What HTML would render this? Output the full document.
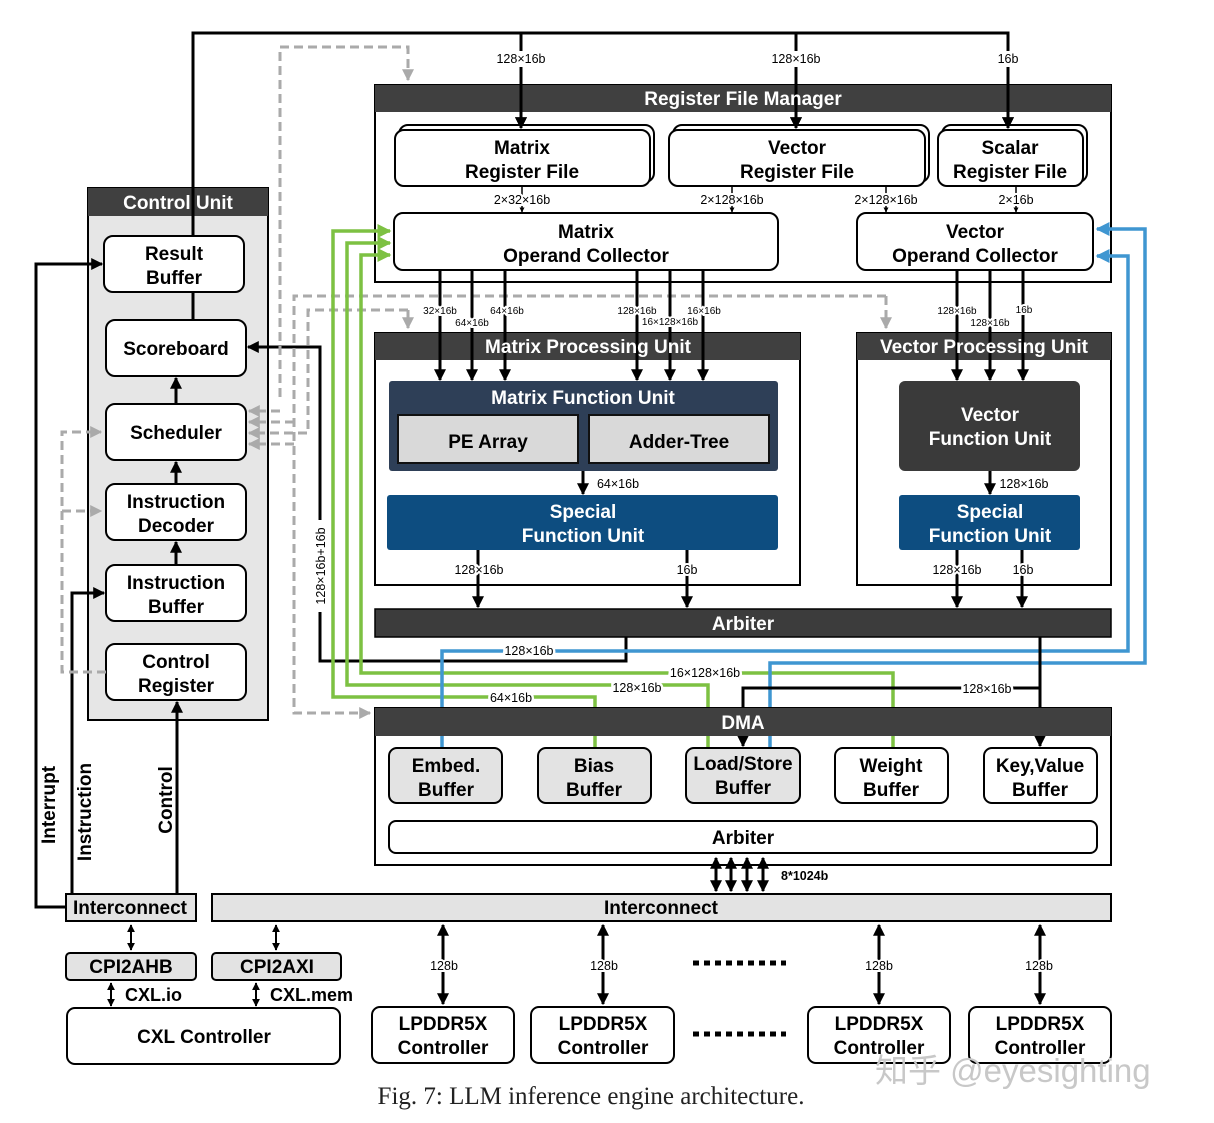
<!DOCTYPE html>
<html><head><meta charset="utf-8"><style>
html,body{margin:0;padding:0;background:#fff;width:1214px;height:1123px;overflow:hidden}
svg{display:block}
text{font-family:"Liberation Sans",sans-serif}
.b{font-weight:bold;font-size:19px;text-anchor:middle}
.w{fill:#fff}
.s{font-size:12.5px;text-anchor:middle}
.xs{font-size:10px;text-anchor:middle}
</style></head><body>
<svg width="1214" height="1123" viewBox="0 0 1214 1123" xmlns="http://www.w3.org/2000/svg">
<defs>
<marker id="a" viewBox="0 0 10 10" refX="9" refY="5" markerWidth="4" markerHeight="4" orient="auto-start-reverse"><path d="M0,0L10,5L0,10z" fill="#000"/></marker>
<marker id="ag" viewBox="0 0 10 10" refX="9" refY="5" markerWidth="4" markerHeight="4" orient="auto"><path d="M0,0L10,5L0,10z" fill="#aaa"/></marker>
<marker id="agr" viewBox="0 0 10 10" refX="9" refY="5" markerWidth="4" markerHeight="4" orient="auto"><path d="M0,0L10,5L0,10z" fill="#7dc142"/></marker>
<marker id="abl" viewBox="0 0 10 10" refX="9" refY="5" markerWidth="4" markerHeight="4" orient="auto"><path d="M0,0L10,5L0,10z" fill="#3f96d1"/></marker>
<marker id="a2" viewBox="0 0 10 10" refX="9" refY="5" markerWidth="3.5" markerHeight="3.5" orient="auto-start-reverse"><path d="M0,0L10,5L0,10z" fill="#000"/></marker>
</defs>

<!-- Control unit -->
<rect x="88" y="188" width="180" height="532" fill="#e6e6e6" stroke="#000" stroke-width="2"/>
<rect x="88" y="188" width="180" height="28" fill="#404040"/>
<g fill="#fff" stroke="#000" stroke-width="2">
<rect x="104" y="236" width="140" height="56" rx="9"/>
<rect x="106" y="320" width="140" height="56" rx="9"/>
<rect x="106" y="404" width="140" height="56" rx="9"/>
<rect x="106" y="484" width="140" height="56" rx="9"/>
<rect x="106" y="565" width="140" height="56" rx="9"/>
<rect x="106" y="644" width="140" height="56" rx="9"/>
</g>
<text class="b" font-size="18"><tspan x="174" y="260">Result</tspan><tspan x="174" y="284">Buffer</tspan></text>
<text class="b" x="176" y="355" font-size="18">Scoreboard</text>
<text class="b" x="176" y="439" font-size="18">Scheduler</text>
<text class="b" font-size="18"><tspan x="176" y="508">Instruction</tspan><tspan x="176" y="532">Decoder</tspan></text>
<text class="b" font-size="18"><tspan x="176" y="589">Instruction</tspan><tspan x="176" y="613">Buffer</tspan></text>
<text class="b" font-size="18"><tspan x="176" y="668">Control</tspan><tspan x="176" y="692">Register</tspan></text>
<g stroke="#000" stroke-width="3" fill="none">
<line x1="176" y1="484" x2="176" y2="462" marker-end="url(#a)"/>
<line x1="176" y1="404" x2="176" y2="378" marker-end="url(#a)"/>
<line x1="176" y1="565" x2="176" y2="542" marker-end="url(#a)"/>
<line x1="193" y1="292" x2="193" y2="320"/>
<polyline points="193,236 193,33 1008,33 1008,128" marker-end="url(#a)"/>
<line x1="521" y1="33" x2="521" y2="128" marker-end="url(#a)"/>
<line x1="796" y1="33" x2="796" y2="128" marker-end="url(#a)"/>
<polyline points="66,907 36,907 36,264 102,264" marker-end="url(#a)"/>
<polyline points="72,894 72,593 104,593" marker-end="url(#a)"/>
<line x1="177" y1="894" x2="177" y2="702" marker-end="url(#a)"/>
<polyline points="626,637 626,661 320,661 320,347 248,347" marker-end="url(#a)"/>
</g>
<text x="178" y="209" class="b w" font-size="18">Control Unit</text>
<rect x="312" y="520" width="16" height="92" fill="#fff"/>
<text transform="translate(325,566) rotate(-90)" class="s">128×16b+16b</text>
<text transform="translate(55,805) rotate(-90)" class="b" font-size="18">Interrupt</text>
<text transform="translate(91,812) rotate(-90)" class="b" font-size="18">Instruction</text>
<text transform="translate(172,800) rotate(-90)" class="b" font-size="18">Control</text>

<!-- gray dashed -->
<g stroke="#aaa" stroke-width="3" fill="none" stroke-dasharray="9,5">
<polyline points="280,397 280,47 408,47 408,80" marker-end="url(#ag)"/>
<line x1="280" y1="411" x2="249" y2="411" marker-end="url(#ag)"/>
<polyline points="886,296 294,296 294,713 370,713" marker-end="url(#ag)"/>
<line x1="886" y1="296" x2="886" y2="328" marker-end="url(#ag)"/>
<line x1="294" y1="422" x2="249" y2="422" marker-end="url(#ag)"/>
<polyline points="408,310 308,310 308,433 249,433" marker-end="url(#ag)"/>
<line x1="408" y1="310" x2="408" y2="328" marker-end="url(#ag)"/>
<line x1="294" y1="444" x2="249" y2="444" marker-end="url(#ag)"/>
<polyline points="106,672 62,672 62,432 101,432" marker-end="url(#ag)"/>
<line x1="62" y1="511" x2="101" y2="511" marker-end="url(#ag)"/>
</g>

<!-- RFM -->
<rect x="375" y="85" width="736" height="197" fill="none" stroke="#000" stroke-width="2"/>
<rect x="375" y="85" width="736" height="27" fill="#404040"/>
<g fill="#fff" stroke="#000" stroke-width="2">
<rect x="399" y="125" width="255" height="57" rx="9"/><rect x="395" y="130" width="255" height="56" rx="9"/>
<rect x="673" y="125" width="256" height="57" rx="9"/><rect x="669" y="130" width="256" height="56" rx="9"/>
<rect x="942" y="125" width="145" height="57" rx="9"/><rect x="938" y="130" width="145" height="56" rx="9"/>
<rect x="394" y="213" width="384" height="57" rx="9"/>
<rect x="857" y="213" width="236" height="57" rx="9"/>
</g>
<g stroke="#000" stroke-width="3"><line x1="521" y1="33" x2="521" y2="128" marker-end="url(#a)"/><line x1="796" y1="33" x2="796" y2="128" marker-end="url(#a)"/><line x1="1008" y1="33" x2="1008" y2="128" marker-end="url(#a)"/></g>
<rect x="490" y="51" width="62" height="16" fill="#fff"/><text x="521" y="63" class="s">128×16b</text>
<rect x="765" y="51" width="62" height="16" fill="#fff"/><text x="796" y="63" class="s">128×16b</text>
<rect x="995" y="51" width="26" height="16" fill="#fff"/><text x="1008" y="63" class="s">16b</text>
<text x="743" y="105" class="b w" font-size="18">Register File Manager</text>
<text class="b" font-size="18"><tspan x="522" y="154">Matrix</tspan><tspan x="522" y="178">Register File</tspan></text>
<text class="b" font-size="18"><tspan x="797" y="154">Vector</tspan><tspan x="797" y="178">Register File</tspan></text>
<text class="b" font-size="18"><tspan x="1010" y="154">Scalar</tspan><tspan x="1010" y="178">Register File</tspan></text>
<text class="b" font-size="18"><tspan x="586" y="238">Matrix</tspan><tspan x="586" y="262">Operand Collector</tspan></text>
<text class="b" font-size="18"><tspan x="975" y="238">Vector</tspan><tspan x="975" y="262">Operand Collector</tspan></text>
<g stroke="#000" stroke-width="1.5">
<line x1="522" y1="186" x2="522" y2="212" marker-end="url(#a2)"/>
<line x1="732" y1="186" x2="732" y2="212" marker-end="url(#a2)"/>
<line x1="886" y1="186" x2="886" y2="212" marker-end="url(#a2)"/>
<line x1="1016" y1="186" x2="1016" y2="212" marker-end="url(#a2)"/>
</g>
<g stroke="#fff" stroke-width="4" paint-order="stroke">
<text x="522" y="204" class="s">2×32×16b</text>
<text x="732" y="204" class="s">2×128×16b</text>
<text x="886" y="204" class="s">2×128×16b</text>
<text x="1016" y="204" class="s">2×16b</text>
</g>

<!-- MPU -->
<rect x="375" y="333" width="425" height="252" fill="#fff" stroke="#000" stroke-width="2"/>
<rect x="375" y="333" width="425" height="27" fill="#404040"/>
<rect x="389" y="381" width="389" height="90" rx="3" fill="#2e3f57"/>
<text x="583" y="404" class="b w" font-size="18">Matrix Function Unit</text>
<rect x="398" y="415" width="180" height="48" fill="#d9d9d9" stroke="#111" stroke-width="2"/>
<rect x="589" y="415" width="180" height="48" fill="#d9d9d9" stroke="#111" stroke-width="2"/>
<text x="488" y="448" class="b" font-size="20">PE Array</text>
<text x="679" y="448" class="b" font-size="20">Adder-Tree</text>
<rect x="387" y="495" width="391" height="55" rx="3" fill="#0d4d80"/>
<text class="b w" font-size="18"><tspan x="583" y="518">Special</tspan><tspan x="583" y="542">Function Unit</tspan></text>

<!-- VPU -->
<rect x="857" y="333" width="254" height="252" fill="#fff" stroke="#000" stroke-width="2"/>
<rect x="857" y="333" width="254" height="27" fill="#404040"/>
<rect x="899" y="381" width="181" height="90" rx="6" fill="#3a3a3a"/>
<text class="b w" font-size="18"><tspan x="990" y="421">Vector</tspan><tspan x="990" y="445">Function Unit</tspan></text>
<rect x="899" y="495" width="181" height="55" rx="3" fill="#0d4d80"/>
<text class="b w" font-size="18"><tspan x="990" y="518">Special</tspan><tspan x="990" y="542">Function Unit</tspan></text>

<g stroke="#000" stroke-width="3">
<line x1="440" y1="271" x2="440" y2="380" marker-end="url(#a)"/>
<line x1="472" y1="271" x2="472" y2="380" marker-end="url(#a)"/>
<line x1="505" y1="271" x2="505" y2="380" marker-end="url(#a)"/>
<line x1="637" y1="271" x2="637" y2="380" marker-end="url(#a)"/>
<line x1="670" y1="271" x2="670" y2="380" marker-end="url(#a)"/>
<line x1="703" y1="271" x2="703" y2="380" marker-end="url(#a)"/>
<line x1="957" y1="271" x2="957" y2="380" marker-end="url(#a)"/>
<line x1="990" y1="271" x2="990" y2="380" marker-end="url(#a)"/>
<line x1="1023" y1="271" x2="1023" y2="380" marker-end="url(#a)"/>
<line x1="583" y1="471" x2="583" y2="494" marker-end="url(#a)"/>
<line x1="990" y1="471" x2="990" y2="494" marker-end="url(#a)"/>
<line x1="478" y1="550" x2="478" y2="607" marker-end="url(#a)"/>
<line x1="687" y1="550" x2="687" y2="607" marker-end="url(#a)"/>
<line x1="957" y1="550" x2="957" y2="607" marker-end="url(#a)"/>
<line x1="1022" y1="550" x2="1022" y2="607" marker-end="url(#a)"/>
</g>
<text x="588" y="353" class="b w" font-size="18">Matrix Processing Unit</text>
<text x="984" y="353" class="b w" font-size="18">Vector Processing Unit</text>
<g stroke="#fff" stroke-width="4" paint-order="stroke">
<text x="440" y="314" class="xs" font-size="11.5">32×16b</text>
<text x="472" y="326" class="xs" font-size="11.5">64×16b</text>
<text x="507" y="314" class="xs" font-size="11.5">64×16b</text>
<text x="637" y="314" class="xs" font-size="11.5">128×16b</text>
<text x="670" y="325" class="xs" font-size="9">16×128×16b</text>
<text x="704" y="314" class="xs" font-size="11.5">16×16b</text>
<text x="957" y="314" class="xs" font-size="11.5">128×16b</text>
<text x="990" y="326" class="xs" font-size="11.5">128×16b</text>
<text x="1024" y="313" class="xs" font-size="9">16b</text>
<text x="618" y="488" class="s">64×16b</text>
<text x="1024" y="488" class="s">128×16b</text>
<text x="479" y="574" class="s">128×16b</text>
<text x="687" y="574" class="s">16b</text>
<text x="957" y="574" class="s">128×16b</text>
<text x="1023" y="574" class="s">16b</text>
</g>

<!-- Arbiter -->
<rect x="375" y="609" width="736" height="28" fill="#3c3c3c" stroke="#000" stroke-width="1.5"/>
<text x="743" y="630" class="b w" font-size="18">Arbiter</text>

<!-- green -->
<g stroke="#7dc142" stroke-width="3.5" fill="none">
<polyline points="595,748 595,697 333,697 333,231 390,231" marker-end="url(#agr)"/>
<polyline points="708,748 708,685 347,685 347,243 390,243" marker-end="url(#agr)"/>
<polyline points="893,748 893,673 361,673 361,255 390,255" marker-end="url(#agr)"/>
</g>
<!-- blue -->
<g stroke="#3f96d1" stroke-width="3.5" fill="none">
<polyline points="442,748 442,651 1128,651 1128,256 1097,256" marker-end="url(#abl)"/>
<polyline points="770,748 770,663 1145,663 1145,229 1097,229" marker-end="url(#abl)"/>
</g>
<!-- black to DMA -->
<g stroke="#000" stroke-width="3" fill="none">
<line x1="1040" y1="637" x2="1040" y2="746" marker-end="url(#a)"/>
<polyline points="1040,688 743,688 743,746" marker-end="url(#a)"/>
</g>
<g stroke="#fff" stroke-width="5" paint-order="stroke">
<text x="529" y="655" class="s">128×16b</text>
<text x="705" y="677" class="s">16×128×16b</text>
<text x="637" y="692" class="s">128×16b</text>
<text x="511" y="702" class="s">64×16b</text>
<text x="987" y="693" class="s">128×16b</text>
</g>

<!-- DMA -->
<rect x="375" y="708" width="736" height="157" fill="none" stroke="#000" stroke-width="2"/>
<rect x="375" y="708" width="736" height="28" fill="#404040"/>
<text x="743" y="729" class="b w" font-size="18">DMA</text>
<g stroke="#000" stroke-width="2">
<rect x="389" y="748" width="113" height="55" rx="8" fill="#e3e3e3"/>
<rect x="538" y="748" width="113" height="55" rx="8" fill="#e3e3e3"/>
<rect x="686" y="748" width="114" height="55" rx="8" fill="#e3e3e3"/>
<rect x="835" y="748" width="113" height="55" rx="8" fill="#fff"/>
<rect x="984" y="748" width="113" height="55" rx="8" fill="#fff"/>
<rect x="389" y="821" width="708" height="32" rx="7" fill="#fff"/>
</g>
<text class="b" font-size="18"><tspan x="446" y="772">Embed.</tspan><tspan x="446" y="796">Buffer</tspan></text>
<text class="b" font-size="18"><tspan x="594" y="772">Bias</tspan><tspan x="594" y="796">Buffer</tspan></text>
<text class="b" font-size="18"><tspan x="743" y="770">Load/Store</tspan><tspan x="743" y="794">Buffer</tspan></text>
<text class="b" font-size="18"><tspan x="891" y="772">Weight</tspan><tspan x="891" y="796">Buffer</tspan></text>
<text class="b" font-size="18"><tspan x="1040" y="772">Key,Value</tspan><tspan x="1040" y="796">Buffer</tspan></text>
<text x="743" y="844" class="b" font-size="18">Arbiter</text>
<g stroke="#000" stroke-width="3">
<line x1="716" y1="858" x2="716" y2="891" marker-start="url(#a)" marker-end="url(#a)"/>
<line x1="731" y1="858" x2="731" y2="891" marker-start="url(#a)" marker-end="url(#a)"/>
<line x1="747" y1="858" x2="747" y2="891" marker-start="url(#a)" marker-end="url(#a)"/>
<line x1="763" y1="858" x2="763" y2="891" marker-start="url(#a)" marker-end="url(#a)"/>
</g>
<text x="781" y="880" font-size="12.5" font-weight="bold">8*1024b</text>

<!-- Interconnect -->
<rect x="212" y="894" width="899" height="27" fill="#e3e3e3" stroke="#000" stroke-width="2"/>
<text x="661" y="914" class="b" font-size="18">Interconnect</text>
<rect x="66" y="894" width="130" height="27" fill="#e3e3e3" stroke="#000" stroke-width="2"/>
<text x="130" y="914" class="b" font-size="18">Interconnect</text>
<rect x="66" y="953" width="130" height="27" rx="4" fill="#e3e3e3" stroke="#000" stroke-width="2"/>
<text x="131" y="973" class="b" font-size="18">CPI2AHB</text>
<rect x="212" y="953" width="129" height="27" rx="4" fill="#e3e3e3" stroke="#000" stroke-width="2"/>
<text x="277" y="973" class="b" font-size="18">CPI2AXI</text>
<rect x="67" y="1008" width="273" height="56" rx="8" fill="#fff" stroke="#000" stroke-width="2"/>
<text x="204" y="1043" class="b" font-size="18">CXL Controller</text>
<g stroke="#000" stroke-width="2">
<line x1="131" y1="925" x2="131" y2="950" marker-start="url(#a)" marker-end="url(#a)"/>
<line x1="276" y1="925" x2="276" y2="950" marker-start="url(#a)" marker-end="url(#a)"/>
<line x1="111" y1="983" x2="111" y2="1006" marker-start="url(#a)" marker-end="url(#a)"/>
<line x1="256" y1="983" x2="256" y2="1006" marker-start="url(#a)" marker-end="url(#a)"/>
</g>
<text x="125" y="1001" font-size="18" font-weight="bold">CXL.io</text>
<text x="270" y="1001" font-size="18" font-weight="bold">CXL.mem</text>

<g stroke="#000" stroke-width="2" fill="#fff">
<rect x="372" y="1007" width="142" height="56" rx="8"/>
<rect x="531" y="1007" width="143" height="56" rx="8"/>
<rect x="808" y="1007" width="142" height="56" rx="8"/>
<rect x="969" y="1007" width="142" height="56" rx="8"/>
</g>
<text class="b" font-size="18"><tspan x="443" y="1030">LPDDR5X</tspan><tspan x="443" y="1054">Controller</tspan></text>
<text class="b" font-size="18"><tspan x="603" y="1030">LPDDR5X</tspan><tspan x="603" y="1054">Controller</tspan></text>
<text class="b" font-size="18"><tspan x="879" y="1030">LPDDR5X</tspan><tspan x="879" y="1054">Controller</tspan></text>
<text class="b" font-size="18"><tspan x="1040" y="1030">LPDDR5X</tspan><tspan x="1040" y="1054">Controller</tspan></text>
<g stroke="#000" stroke-width="3">
<line x1="443" y1="925" x2="443" y2="1004" marker-start="url(#a)" marker-end="url(#a)"/>
<line x1="603" y1="925" x2="603" y2="1004" marker-start="url(#a)" marker-end="url(#a)"/>
<line x1="879" y1="925" x2="879" y2="1004" marker-start="url(#a)" marker-end="url(#a)"/>
<line x1="1040" y1="925" x2="1040" y2="1004" marker-start="url(#a)" marker-end="url(#a)"/>
</g>
<g stroke="#fff" stroke-width="4" paint-order="stroke">
<text x="444" y="970" class="s">128b</text>
<text x="604" y="970" class="s">128b</text>
<text x="879" y="970" class="s">128b</text>
<text x="1039" y="970" class="s">128b</text>
</g>
<g stroke="#000" stroke-width="5" stroke-dasharray="6,5">
<line x1="693" y1="963" x2="786" y2="963"/>
<line x1="693" y1="1034" x2="786" y2="1034"/>
</g>

<text x="875" y="1082" font-size="33" fill="#c8c8c8" style="font-family:'Liberation Sans','Noto Sans CJK SC',sans-serif">知乎 @eyesighting</text>
<text x="591" y="1104" font-size="25" text-anchor="middle" fill="#222" style="font-family:'Liberation Serif',serif">Fig. 7: LLM inference engine architecture.</text>
</svg>
</body></html>
